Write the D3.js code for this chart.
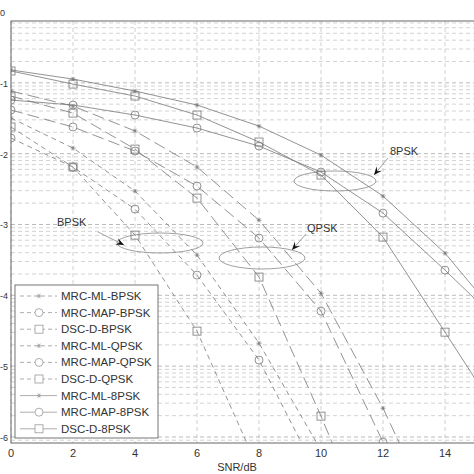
<!DOCTYPE html>
<html><head><meta charset="utf-8">
<script src="https://cdn.jsdelivr.net/npm/d3@7"></script>
<style>body{margin:0;background:#fff}text{font-family:"Liberation Sans",Arial,sans-serif;fill:#333}</style>
</head><body><svg></svg>
<script>
let snr = [0,2,4,6,8,10,12,14,15];
let ml8 = [0.152,0.113,0.0766,0.0486,0.0245,0.00955,0.00252,3.94e-4,1.18e-4];
let map8 = [0.0571,0.0486,0.0351,0.023,0.0128,0.0055,0.00145,2.27e-4,8.6e-5];
let dsc8 = [0.147,0.096,0.0651,0.0351,0.0146,0.00499,6.64e-4,3.02e-5,6.34e-6];
let mlQ = [0.0766,0.047,0.0209,0.00647,0.00115,1.07e-4,2.55e-6,3.5e-8];
let mapQ = [0.0413,0.0238,0.0109,0.00349,6.43e-4,5.98e-5,8.45e-7,1e-8];
let dscQ = [0.0651,0.0374,0.0116,0.00236,1.81e-4,1.97e-6,1.6e-8];
let mlB = [0.0318,0.012,0.00296,3.7e-4,2.11e-5,6.5e-7];
let mapB = [0.0166,0.00647,0.00165,1.93e-4,1.22e-5,2.4e-7];
let dscB = [0.0238,0.00647,7.08e-4,3.12e-5,3.4e-7];
let xTicks = [0,2,4,6,8,10,12,14];
let yTicks = [-1,-2,-3,-4,-5,-6];

let series = [
  {name:'MRC-ML-BPSK', v:mlB, m:'star', d:'5,4'},
  {name:'MRC-MAP-BPSK', v:mapB, m:'circle', d:'5,4'},
  {name:'DSC-D-BPSK', v:dscB, m:'square', d:'5,4'},
  {name:'MRC-ML-QPSK', v:mlQ, m:'star', d:'12,5'},
  {name:'MRC-MAP-QPSK', v:mapQ, m:'circle', d:'12,5'},
  {name:'DSC-D-QPSK', v:dscQ, m:'square', d:'12,5'},
  {name:'MRC-ML-8PSK', v:ml8, m:'star', d:null},
  {name:'MRC-MAP-8PSK', v:map8, m:'circle', d:null},
  {name:'DSC-D-8PSK', v:dsc8, m:'square', d:null}
];

let W = 474, H = 474;
let svg = d3.select('svg').attr('width', W).attr('height', H);
let x = d3.scaleLinear().domain([0,15]).range([11,476]);
let y = d3.scaleLog().domain([Math.pow(10,-0.127), Math.pow(10,-6.085)]).range([21,443]);

svg.append('defs').append('clipPath').attr('id','c')
   .append('rect').attr('x',11).attr('y',21).attr('width',465).attr('height',422);

// grid
let g = svg.append('g').attr('stroke','#c4c4c4').attr('stroke-dasharray','4,3').attr('stroke-width',0.8);
xTicks.concat([15]).forEach(t => g.append('line').attr('x1',x(t)).attr('x2',x(t)).attr('y1',21).attr('y2',443));
for (let e = 0; e >= -6; e--) {
  for (let k = 1; k < 10; k++) {
    let p = y(k*Math.pow(10,e-1));
    if (p < 21 || p > 443) continue;
    g.append('line').attr('x1',11).attr('x2',476).attr('y1',p).attr('y2',p)
     .attr('stroke', k==1 ? '#aaa' : '#c8c8c8');
  }
}
svg.append('rect').attr('x',11).attr('y',21).attr('width',465).attr('height',422)
   .attr('fill','none').attr('stroke','#666').attr('stroke-width',1);

svg.selectAll('.xt').data(xTicks).enter().append('text')
   .attr('x',d=>x(d)).attr('y',457).attr('text-anchor','middle').attr('font-size',11).text(d=>d);
svg.selectAll('.yt').data(yTicks).enter().append('text')
   .attr('x',0).attr('y',d=>y(Math.pow(10,d))+4).attr('font-size',9).text(d=>d);
svg.append('text').attr('x',0).attr('y',16).attr('font-size',9).text('0');
svg.append('text').attr('x',237).attr('y',471).attr('text-anchor','middle').attr('font-size',11).text('SNR/dB');

function marker(sel, m, px, py) {
  if (m=='circle') sel.append('circle').attr('cx',px).attr('cy',py).attr('r',4);
  else if (m=='square') sel.append('rect').attr('x',px-4).attr('y',py-4).attr('width',8).attr('height',8);
  else {
    [0,60,120].forEach(a => {
      let r = a*Math.PI/180;
      sel.append('line').attr('x1',px-2.5*Math.cos(r)).attr('y1',py-2.5*Math.sin(r))
         .attr('x2',px+2.5*Math.cos(r)).attr('y2',py+2.5*Math.sin(r));
    });
  }
}

let line = d3.line().x((d,i)=>x(snr[i])).y(d=>y(d));
let plot = svg.append('g').attr('clip-path','url(#c)');
series.forEach(s => {
  plot.append('path').attr('d', line(s.v)).attr('fill','none').attr('stroke','#777')
      .attr('stroke-width',0.8).attr('stroke-dasharray', s.d);
  let mg = plot.append('g').attr('fill','none').attr('stroke','#777').attr('stroke-width',0.8);
  s.v.forEach((v,i) => { if (snr[i] % 2 == 0) marker(mg, s.m, x(snr[i]), y(v)); });
});

// annotations
let ann = svg.append('g').attr('fill','none').attr('stroke','#888').attr('stroke-width',0.8);
ann.append('ellipse').attr('cx',160).attr('cy',243).attr('rx',43).attr('ry',10);
ann.append('ellipse').attr('cx',262).attr('cy',258).attr('rx',43).attr('ry',11);
ann.append('ellipse').attr('cx',335).attr('cy',181).attr('rx',41).attr('ry',10);
[[98,232,124,245],[306,234,292,250],[388,158,374,175]].forEach(a => {
  ann.append('line').attr('x1',a[0]).attr('y1',a[1]).attr('x2',a[2]).attr('y2',a[3]);
  let ang = Math.atan2(a[3]-a[1], a[2]-a[0]);
  let p = (t,l) => [a[2]-l*Math.cos(ang+t), a[3]-l*Math.sin(ang+t)];
  svg.append('path').attr('d',`M${a[2]},${a[3]}L${p(0.4,9)}L${p(0,5)}L${p(-0.4,9)}Z`).attr('fill','#111');
});
svg.append('text').attr('x',57).attr('y',226).attr('font-size',11).text('BPSK');
svg.append('text').attr('x',307).attr('y',232).attr('font-size',11).text('QPSK');
svg.append('text').attr('x',390).attr('y',155).attr('font-size',11).text('8PSK');

// legend
let lg = svg.append('g');
lg.append('rect').attr('x',15).attr('y',285).attr('width',143).attr('height',153)
  .attr('fill','#fff').attr('stroke','#666').attr('stroke-width',0.9);
series.forEach((s,i) => {
  let ly = 296 + i*16.6;
  lg.append('line').attr('x1',20).attr('x2',57).attr('y1',ly).attr('y2',ly)
    .attr('stroke','#999').attr('stroke-width',0.8).attr('stroke-dasharray', s.d ? '4,3' : null);
  let mg = lg.append('g').attr('fill','#fff').attr('stroke','#999').attr('stroke-width',0.8);
  marker(mg, s.m, 39, ly);
  lg.append('text').attr('x',61).attr('y',ly+4).attr('font-size',11.5).text(s.name);
});
</script></body></html>
